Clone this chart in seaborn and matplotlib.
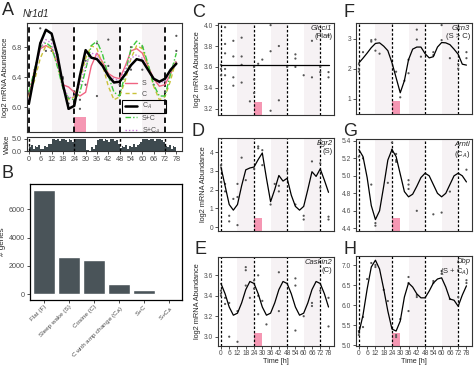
import seaborn as sns
import matplotlib.pyplot as plt
from matplotlib.patches import Rectangle

sns.set_theme(style="white")
plt.rcParams['font.family'] = ['Liberation Sans', 'DejaVu Sans']

###############################################
# Data
###############################################

# model fit times (h)
hours = [0, 3, 6, 9, 12, 15, 18, 21, 24, 27, 30, 33, 36, 39, 42, 45, 48, 51, 54, 57, 60, 63, 66, 69, 72, 75, 78]

# Panel A - Nr1d1 model fits
nr1d1_s = [6.15, 6.50, 6.78, 6.82, 6.78, 6.60, 6.30, 6.27, 6.20, 6.15, 6.20, 6.55, 6.72, 6.60,
           6.45, 6.40, 6.38, 6.55, 6.75, 6.78, 6.72, 6.55, 6.38, 6.28, 6.30, 6.45, 6.60]
nr1d1_c = [6.14, 6.36, 6.65, 6.82, 6.78, 6.56, 6.28, 6.10, 6.14, 6.36, 6.65, 6.82, 6.78, 6.56,
           6.28, 6.10, 6.14, 6.36, 6.65, 6.82, 6.78, 6.56, 6.28, 6.10, 6.14, 6.36, 6.65]
nr1d1_ca = [6.05, 6.45, 6.85, 7.03, 6.98, 6.70, 6.30, 5.98, 6.02, 6.42, 6.76, 6.66, 6.64, 6.55,
            6.42, 6.33, 6.34, 6.44, 6.56, 6.64, 6.62, 6.50, 6.38, 6.34, 6.38, 6.50, 6.58]
nr1d1_sc = [6.20, 6.50, 6.80, 6.86, 6.80, 6.55, 6.25, 6.12, 6.10, 6.20, 6.50, 6.82, 6.88, 6.70,
            6.42, 6.20, 6.15, 6.45, 6.78, 6.88, 6.82, 6.58, 6.30, 6.15, 6.15, 6.45, 6.72]
nr1d1_sca = [6.10, 6.45, 6.78, 6.90, 6.85, 6.60, 6.30, 6.12, 6.15, 6.30, 6.55, 6.72, 6.70, 6.55,
             6.40, 6.38, 6.35, 6.50, 6.65, 6.70, 6.65, 6.50, 6.38, 6.32, 6.35, 6.50, 6.62]
nr1d1_pt_t = [0, 0, 0, 3, 6, 6, 9, 12, 12, 15, 18, 18, 21, 21, 24, 24, 27, 27, 30, 30,
              36, 36, 42, 42, 48, 54, 54, 60, 60, 66, 72, 78, 78]
nr1d1_pt_y = [6.20, 6.05, 5.98, 6.50, 7.05, 6.85, 6.75, 6.90, 6.75, 6.70, 6.40, 6.38, 5.98, 6.05,
              6.05, 6.10, 6.10, 5.98, 6.62, 6.30, 6.85, 6.15, 6.90, 6.55, 6.30, 6.50, 6.80,
              6.80, 6.50, 6.30, 6.20, 6.95, 6.75]

# wake amount per hour bin
wake_hours = list(range(78))
wake = [1.5, 2.5, 1.0, 2.0, 1.5, 2.5, 1.0, 0.8, 2.0, 1.5, 2.8, 3.0,
        4.8, 5.0, 4.5, 5.0, 4.2, 4.8, 5.0, 4.6, 3.8, 5.0, 4.5, 3.5,
        5.0, 5.0, 5.0, 5.0, 5.0, 5.0,
        0.3, 0.5, 0.2, 1.5, 0.8, 2.5,
        4.5, 5.0, 4.8, 4.2, 5.0, 4.6, 3.5, 4.8, 5.0, 4.0, 4.5, 3.0,
        1.2, 2.0, 1.5, 2.5, 1.0, 2.2, 1.8, 2.8, 1.5, 2.5, 3.0, 3.5,
        5.0, 4.8, 5.0, 4.5, 5.0, 4.8, 4.2, 5.0, 4.7, 5.0, 4.5, 3.8,
        2.0, 1.5, 2.5, 1.0, 2.0, 1.5]

# Panel B - genes per model
model_names = ["Flat (F)", "Sleep wake (S)", "Cosine (C)", "C with amp change (C$_A$)", "S+C", "S+C$_A$"]
gene_counts = [7380, 2660, 2440, 740, 300, 120]

# Panel C - Glcci1 (flat)
glcci1_fit = [3.62] * 27
glcci1_pt_t = [0, 0, 0, 3, 3, 3, 3, 3, 9, 9, 9, 9, 15, 15, 15, 15, 21, 24, 24, 24, 27, 30,
               36, 36, 36, 42, 42, 48, 54, 54, 54, 60, 66, 66, 72, 72, 78, 78, 78]
glcci1_pt_y = [3.62, 3.58, 3.52, 3.98, 3.82, 3.73, 3.58, 3.52, 3.85, 3.70, 3.50, 3.42,
               3.88, 3.70, 3.62, 3.45, 3.27, 3.60, 3.48, 3.35, 3.63, 3.67, 4.00, 3.75,
               3.18, 3.80, 3.28, 3.60, 3.72, 3.68, 3.60, 3.52, 3.85, 3.50, 3.60, 3.55,
               3.90, 3.55, 3.50]

# Panel D - Egr2 (S)
egr2_fit = [3.20, 2.20, 1.20, 0.90, 1.20, 2.20, 3.05, 3.15, 3.20, 3.60, 3.95, 2.60, 1.35, 2.00,
            2.75, 2.45, 2.60, 1.70, 1.10, 0.90, 1.10, 2.00, 2.95, 2.70, 3.10, 2.50, 1.85]
egr2_pt_t = [0, 0, 3, 3, 6, 6, 9, 12, 12, 12, 15, 18, 24, 27, 27, 30, 30, 36, 39, 42, 42,
             48, 54, 60, 60, 66, 72, 72, 78, 78]
egr2_pt_y = [3.30, 2.40, 2.30, 1.90, 0.60, 0.30, 1.50, 2.30, 1.60, 0.10, 3.70, 2.50, 3.10,
             4.30, 4.20, 4.10, 3.30, 1.20, 2.30, 2.20, 1.90, 3.00, 1.20, 0.40, 0.60, 3.50,
             2.10, 3.40, 0.40, 0.55]

# Panel E - Caskin2 (C)
caskin2_fit = [3.52, 3.42, 3.29, 3.21, 3.23, 3.33, 3.46, 3.54, 3.52, 3.42, 3.29, 3.21, 3.23,
               3.33, 3.46, 3.54, 3.52, 3.42, 3.29, 3.21, 3.23, 3.33, 3.46, 3.54, 3.52, 3.42, 3.29]
caskin2_pt_t = [0, 0, 0, 3, 3, 6, 6, 12, 12, 18, 18, 18, 21, 24, 24, 27, 27, 27, 30, 33,
                42, 42, 54, 54, 54, 60, 66, 66, 72, 78, 78]
caskin2_pt_y = [3.45, 3.42, 3.40, 3.38, 3.32, 3.00, 3.33, 2.95, 3.25, 3.68, 3.65, 3.50, 3.38,
                3.55, 3.47, 3.60, 3.40, 3.22, 3.35, 3.12, 3.63, 3.25, 3.57, 3.50, 3.06, 3.20,
                3.33, 3.30, 3.45, 3.38, 3.10]

# Panel F - Gkn3 (S > C)
gkn3_fit = [2.19, 2.35, 2.52, 2.70, 2.84, 2.86, 2.75, 2.60, 2.20, 1.70, 1.20, 1.60, 2.30, 2.65,
            2.72, 2.72, 2.50, 2.36, 2.40, 2.72, 2.87, 2.86, 2.80, 2.65, 2.48, 2.15, 2.12]
gkn3_pt_t = [0, 0, 0, 3, 9, 9, 12, 12, 15, 27, 30, 33, 36, 36, 42, 42, 45, 54, 54, 60, 60,
             66, 72, 72, 78, 78]
gkn3_pt_y = [2.15, 2.00, 1.90, 2.55, 2.95, 2.90, 2.97, 2.60, 2.50, 1.90, 1.05, 1.60, 1.85,
             2.30, 3.30, 2.97, 2.40, 2.55, 2.45, 3.45, 2.95, 2.35, 2.15, 2.00, 2.55, 2.35]

# Panel G - Arntl (C_A)
arntl_fit = [5.30, 5.22, 4.98, 4.66, 4.50, 4.60, 4.88, 5.18, 5.30, 5.22, 5.02, 4.82, 4.76, 4.79,
             4.88, 4.98, 5.03, 5.00, 4.90, 4.80, 4.76, 4.80, 4.90, 5.00, 5.03, 5.00, 4.93]
arntl_pt_t = [0, 3, 9, 12, 12, 21, 24, 24, 27, 27, 27, 36, 36, 36, 42, 54, 60, 66, 78]
arntl_pt_y = [5.22, 5.20, 4.90, 4.43, 4.46, 4.92, 5.38, 5.30, 5.25, 5.18, 5.16, 4.95, 4.90,
              4.85, 4.60, 4.56, 4.58, 4.82, 5.07]

# Panel H - Dbp (S + C_A)
dbp_fit = [5.30, 5.75, 6.40, 6.95, 7.12, 6.90, 6.40, 5.85, 5.40, 5.35, 5.60, 6.20, 6.55, 6.45,
           6.28, 6.18, 6.18, 6.35, 6.55, 6.65, 6.68, 6.45, 6.15, 6.12, 5.97, 6.25, 6.48]
dbp_pt_t = [0, 0, 3, 3, 6, 9, 12, 12, 18, 21, 27, 27, 30, 36, 36, 36, 42, 42, 54, 54, 60,
            60, 66, 72, 78, 78]
dbp_pt_y = [5.35, 5.25, 5.70, 5.45, 6.65, 7.05, 7.00, 6.95, 6.38, 6.10, 5.20, 5.25, 5.65,
            6.70, 6.55, 5.85, 6.25, 6.20, 6.55, 6.60, 6.85, 6.78, 6.15, 6.20, 6.55, 6.62]

dark_phases = [(12, 24), (36, 48), (60, 72)]
sd_window = (24, 30)
day_marks = [0, 24, 48, 72]
time_ticks = list(range(0, 79, 6))

###############################################
# Helpers
###############################################

tick_col = "#4d4d4d"
pt_col = "#555555"


def frame(ax, lw=0.8, col="#333333"):
    for sp in ax.spines.values():
        sp.set_visible(True)
        sp.set_linewidth(lw)
        sp.set_color(col)


def time_background(ax, dash_lw=0.9, dash=(2, 1.5)):
    for a, b in dark_phases:
        ax.axvspan(a, b, color="#f6f2f4", lw=0, zorder=0)
    ax.axvspan(sd_window[0], sd_window[1], ymin=0, ymax=0.14, color="#f597b3", lw=0, zorder=1)
    for d in day_marks:
        ax.axvline(d, color="black", lw=dash_lw, dashes=dash, zorder=2)


def style_ticks(ax, size=4.8):
    ax.tick_params(axis="both", labelsize=size, labelcolor=tick_col, length=2, width=0.6,
                   color="#333333", pad=1.5, left=True, bottom=True)


def gene_panel(rect, fit, pt_t, pt_y, ylim, yticks, ylabels, gene, model, ylab=False, xlab=False):
    ax = fig.add_axes(rect)
    time_background(ax)
    sns.scatterplot(x=pt_t, y=pt_y, ax=ax, s=2.5, color=pt_col, edgecolor="none", zorder=3)
    sns.lineplot(x=hours, y=fit, ax=ax, color="black", lw=0.9, zorder=4)
    ax.set_xlim(-2.1, 82.1)
    ax.set_ylim(*ylim)
    ax.set_yticks(yticks)
    ax.set_yticklabels(ylabels)
    ax.set_xticks(time_ticks)
    style_ticks(ax)
    if xlab:
        ax.set_xticklabels([str(t) for t in time_ticks])
        ax.set_xlabel("Time [h]", fontsize=5.2, labelpad=0.5)
        ax.tick_params(axis="x", pad=1)
    else:
        ax.set_xticklabels([])
        ax.tick_params(axis="x", length=0)
    if ylab:
        ax.set_ylabel("log2 mRNA Abundance", fontsize=5.3, labelpad=2)
    ax.text(0.985, 0.975, gene, transform=ax.transAxes, ha="right", va="top",
            fontsize=5.5, fontstyle="italic", zorder=6)
    ax.text(0.985, 0.89, model, transform=ax.transAxes, ha="right", va="top",
            fontsize=5.5, zorder=6)
    frame(ax)
    return ax


fig = plt.figure(figsize=(4.74, 3.66), dpi=100)

###############################################
# A: Nr1d1 with all model fits + wake
###############################################

axA = fig.add_axes([0.057, 0.639, 0.327, 0.298])
time_background(axA, dash_lw=1.3, dash=(3, 2))
sns.scatterplot(x=nr1d1_pt_t, y=nr1d1_pt_y, ax=axA, s=2.5, color=pt_col, edgecolor="none", zorder=3)
sns.lineplot(x=hours, y=nr1d1_s, ax=axA, color="#f06482", lw=1.0, label="S", zorder=4)
sns.lineplot(x=hours, y=nr1d1_c, ax=axA, color="#c9c23a", lw=1.0, label="C", zorder=4)
sns.lineplot(x=hours, y=nr1d1_ca, ax=axA, color="black", lw=1.8, label="C$_A$", zorder=6)
sns.lineplot(x=hours, y=nr1d1_sc, ax=axA, color="#3cc83c", lw=1.0, label="S+C", zorder=4)
sns.lineplot(x=hours, y=nr1d1_sca, ax=axA, color="#c879d8", lw=1.0, label="S+C$_A$", zorder=4)
styles = {"C": (0, (3, 2)), "S+C": (0, (4, 1.5, 1, 1.5)), "S+C$_A$": (0, (1, 1.5))}
for ln in axA.get_lines():
    if ln.get_label() in styles:
        ln.set_linestyle(styles[ln.get_label()])
leg = axA.legend(loc="upper left", bbox_to_anchor=(0.6, 0.52), fontsize=5, frameon=False,
                 handlelength=1.8, handletextpad=0.6, labelspacing=0.5, borderpad=0.2)
for t in leg.get_texts():
    t.set_color(tick_col)
axA.set_xlim(-1, 81)
axA.set_ylim(5.67, 7.12)
axA.set_yticks([6.0, 6.4, 6.8])
axA.set_yticklabels(["6.0", "6.4", "6.8"])
axA.set_xticks(time_ticks)
axA.set_xticklabels([])
axA.set_ylabel("log2 mRNA Abundance", fontsize=5.5, labelpad=2)
style_ticks(axA, 5.2)
axA.tick_params(axis="x", length=0)
frame(axA)

axW = fig.add_axes([0.057, 0.587, 0.327, 0.038])
axW.bar(wake_hours, wake, width=1.0, align="edge", color="#3e4a4f", lw=0)
for d in day_marks:
    axW.axvline(d, color="black", lw=1.0, dashes=(2, 1.5))
axW.set_xlim(-1, 81)
axW.set_ylim(0, 5.6)
axW.set_yticks([0, 5])
axW.set_yticklabels(["0.0", "5.0"])
axW.set_xticks(time_ticks)
axW.set_xticklabels([str(t) for t in time_ticks])
axW.set_ylabel("Wake", fontsize=5.5, labelpad=1)
style_ticks(axW, 5.2)
frame(axW)

###############################################
# B: number of genes per model
###############################################

axB = fig.add_axes([0.063, 0.180, 0.321, 0.318])
sns.barplot(x=model_names, y=gene_counts, ax=axB, color="#4a5459", width=0.88, saturation=1)
axB.set_xlim(-0.56, 5.52)
axB.set_ylim(-414, 7793)
axB.set_yticks([0, 2000, 4000, 6000])
axB.set_yticklabels(["0", "2000", "4000", "6000"])
axB.set_ylabel("# genes", fontsize=5.8, labelpad=2)
style_ticks(axB, 5.2)
axB.tick_params(axis="x", pad=1)
plt.setp(axB.get_xticklabels(), rotation=45, ha="right", rotation_mode="anchor", fontsize=4.6)
frame(axB, lw=0.9, col="black")

###############################################
# C-H: example genes
###############################################

gene_panel([0.460, 0.686, 0.245, 0.251], glcci1_fit, glcci1_pt_t, glcci1_pt_y, (3.14, 4.02),
           [3.2, 3.4, 3.6, 3.8, 4.0], ["3.2", "3.4", "3.6", "3.8", "4.0"], "Glcci1", "(Flat)", ylab=True)
gene_panel([0.460, 0.369, 0.245, 0.254], egr2_fit, egr2_pt_t, egr2_pt_y, (-0.21, 4.75),
           [0, 1, 2, 3, 4], ["0", "1", "2", "3", "4"], "Egr2", "(S)", ylab=True)
gene_panel([0.460, 0.055, 0.245, 0.243], caskin2_fit, caskin2_pt_t, caskin2_pt_y, (2.91, 3.78),
           [3.0, 3.2, 3.4, 3.6], ["3.0", "3.2", "3.4", "3.6"], "Caskin2", "(C)", ylab=True, xlab=True)
gene_panel([0.751, 0.689, 0.245, 0.249], gkn3_fit, gkn3_pt_t, gkn3_pt_y, (0.5, 3.53),
           [1, 2, 3], ["1", "2", "3"], "Gkn3", "(S > C)")
gene_panel([0.751, 0.369, 0.245, 0.251], arntl_fit, arntl_pt_t, arntl_pt_y, (4.37, 5.42),
           [4.4, 4.6, 4.8, 5.0, 5.2, 5.4], ["4.4", "4.6", "4.8", "5.0", "5.2", "5.4"],
           "Arntl", "(C$_A$)")
gene_panel([0.751, 0.055, 0.245, 0.245], dbp_fit, dbp_pt_t, dbp_pt_y, (4.98, 7.22),
           [5.0, 5.5, 6.0, 6.5, 7.0], ["5.0", "5.5", "6.0", "6.5", "7.0"], "Dbp", "(S + C$_A$)", xlab=True)

###############################################
# panel letters, title, boxed C_A legend key
###############################################

for letter, x, y in [("A", 0.004, 0.995), ("B", 0.004, 0.548), ("C", 0.405, 0.99),
                     ("D", 0.405, 0.665), ("E", 0.411, 0.342), ("F", 0.724, 0.99),
                     ("G", 0.724, 0.665), ("H", 0.724, 0.342)]:
    fig.text(x, y, letter, fontsize=13, va="top", ha="left")
fig.text(0.047, 0.963, "Nr1d1", fontsize=7, fontstyle="italic", va="center", ha="left")

fig.canvas.draw()
inv = fig.transFigure.inverted()
tb = leg.get_texts()[2].get_window_extent()
hb = leg.legend_handles[2].get_window_extent()
x0, y0 = inv.transform((hb.x0 - 3, tb.y0 - 1.5))
x1, y1 = inv.transform((tb.x1 + 14, tb.y1 + 1.5))
fig.add_artist(Rectangle((x0, y0), x1 - x0, y1 - y0, transform=fig.transFigure, fill=False,
                         lw=0.8, edgecolor="black", zorder=7))

fig.savefig("out.png", dpi=100)
